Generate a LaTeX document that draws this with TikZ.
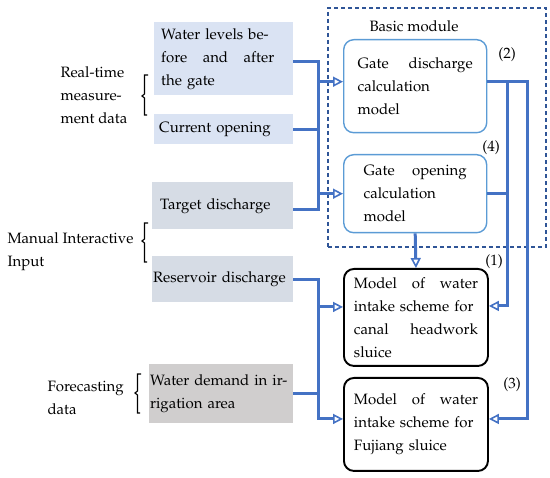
\documentclass[tikz,border=0pt]{standalone}
\usepackage[T1]{fontenc}
\renewcommand{\rmdefault}{ppl}
\usetikzlibrary{arrows.meta}
\definecolor{inblue}{HTML}{DAE3F3}
\definecolor{ingray}{HTML}{D6DCE5}
\definecolor{indark}{HTML}{D0CECE}
\definecolor{connc}{HTML}{4472C4}
\definecolor{modc}{HTML}{5B9BD5}
\definecolor{framec}{HTML}{2F5597}
\begin{document}
\begin{tikzpicture}[x=1pt,y=-1pt,font=\fontsize{15}{23}\selectfont,
  inbox/.style={rectangle,anchor=north west,inner ysep=0pt,align=left},
  modbox/.style={rectangle,rounded corners=10pt,anchor=north west,inner ysep=0pt,align=left},
  bluebox/.style={modbox,draw=modc,line width=1.4pt},
  blackbox/.style={modbox,draw=black,line width=1.9pt},
  conn/.style={draw=connc,line width=3pt},
  arr/.style={conn,-{Triangle[open,length=10pt,width=10pt,line width=1.6pt]}},
  bracepath/.style={draw=black,line width=1.1pt},
  frame/.style={rectangle,anchor=north west,draw=framec,line width=1.8pt,dash pattern=on 4pt off 3pt}]
\useasboundingbox (0,0) rectangle (550,478);

% dashed frame
\node[frame,minimum width=218pt,minimum height=239pt] (bm) at (327,7) {};
\node (bmlabel) at (414,26) {Basic module};

% input boxes
\node[inbox,fill=inblue,minimum width=139pt,minimum height=73pt,inner xsep=7pt,text width=125pt] (wl) at (154,22)
  {\parbox{113pt}{\mbox{Water levels be-}\\fore\hfill and\hfill after\\the gate}};
\node[inbox,fill=inblue,minimum width=139pt,minimum height=30pt,inner xsep=5pt,text width=129pt] (co) at (154,114) {Current opening};
\node[inbox,fill=ingray,minimum width=141pt,minimum height=47pt,inner xsep=8pt,text width=125pt] (td) at (152,182) {Target discharge};
\node[inbox,fill=ingray,minimum width=141pt,minimum height=46pt,inner xsep=1pt,text width=139pt] (rd) at (152,256) {Reservoir discharge};
\node[inbox,fill=indark,minimum width=144pt,minimum height=59pt,inner xsep=1pt,text width=142pt] (wd) at (149,364) {\mbox{Water demand in ir-}\\rigation area};

% model boxes
\node[bluebox,minimum width=143pt,minimum height=93pt,inner xsep=14pt,text width=115pt] (gd) at (343,39)
  {Gate\hfill discharge\\calculation\\model};
\node[bluebox,minimum width=143pt,minimum height=78pt,inner xsep=20pt,text width=103pt] (go) at (343,154)
  {Gate\hfill opening\\calculation\\model};
\node[blackbox,minimum width=144pt,minimum height=97pt,inner xsep=10pt,text width=124pt] (cn) at (343,268)
  {Model\hfill of\hfill water\\\mbox{intake scheme for}\\canal\hfill headwork\\sluice};
\node[blackbox,minimum width=144pt,minimum height=93pt,inner xsep=10pt,text width=124pt] (fj) at (343,377)
  {Model\hfill of\hfill water\\\mbox{intake scheme for}\\Fujiang sluice};

% numbers
\node (l2) at (507,55) {(2)};
\node (l4) at (491,148) {(4)};
\node (l1) at (494,262) {(1)};
\node (l3) at (512,385) {(3)};

% left group labels
\node[anchor=west,align=left] (rt) at (57,95) {Real-time\\measure-\\ment data};
\node[anchor=west,align=left] (mi) at (4,252) {Manual Interactive\\Input};
\node[anchor=west,align=left] (fc) at (44,398) {Forecasting\\data};

% braces
\draw[bracepath] (148,75) -- (144.5,75) -- (144.5,94) -- (142,96) -- (144.5,98) -- (144.5,115) -- (147,115);
\draw[bracepath] (148,223) -- (144.5,223) -- (144.5,239) -- (142,241) -- (144.5,243) -- (144.5,262) -- (147,262);
\draw[bracepath] (141,374) -- (137.5,374) -- (137.5,391) -- (135,393) -- (137.5,395) -- (137.5,413) -- (140,413);

% bus coordinates
\coordinate (busA) at (318,0);
\coordinate (busB) at (507,0);
\coordinate (busC) at (527,0);
\coordinate (wlo) at ([yshift=-2.5pt]wl.east);
\coordinate (tdo) at ([yshift=-3.5pt]td.east);
\coordinate (gdi) at ([yshift=4.5pt]gd.west);
\coordinate (gdo) at ([yshift=4.5pt]gd.east);
\coordinate (cni) at ([yshift=10.5pt]cn.west);
\coordinate (cne) at ([yshift=11.5pt]cn.east);
\coordinate (fji) at ([yshift=5.5pt]fj.west);
\coordinate (fje) at ([yshift=5.5pt]fj.east);

% connectors left
\draw[conn] (wlo) -- (wlo -| busA) -- (tdo -| busA) -- (tdo);
\draw[conn] (co.east) -- (co.east -| busA);
\draw[arr] (gdi -| busA) -- (gdi);
\draw[arr] (go.west -| busA) -- (go.west);
\draw[arr] (rd.east) -- (rd.east -| busA) |- (fji);
\draw[arr] (cni -| busA) -- (cni);
\draw[conn] (wd.east) -- (wd.east -| busA);

% connectors right
\draw[arr] (gdo) -- (gdo -| busC) |- (fje);
\draw[arr] (gdo -| busB) |- (cne);
\draw[conn] (go.east) -- (go.east -| busB);
\draw[arr] (go.south) -- (cn.north);
\end{tikzpicture}
\end{document}
